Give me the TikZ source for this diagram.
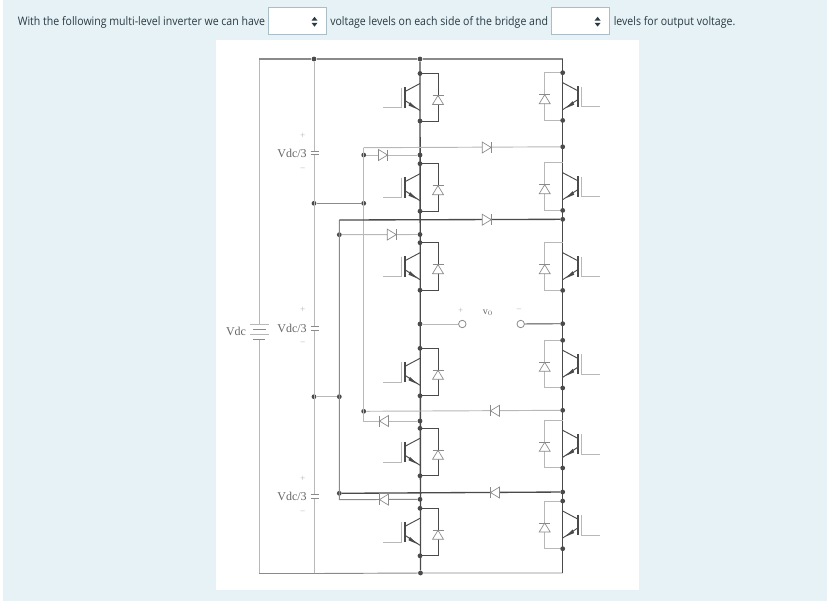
\documentclass[tikz,border=0pt]{standalone}
\usepackage{fontspec}
\setmainfont[FakeStretch=0.9]{Open Sans}
\newfontfamily\serifl{Liberation Serif}
\definecolor{pagebg}{HTML}{E6F2F5}
\definecolor{boxedge}{HTML}{A9BEC6}
\definecolor{txt}{HTML}{2A3B44}
\definecolor{dk}{HTML}{4A4A4A}
\definecolor{md}{HTML}{8A8A8A}
\definecolor{lt}{HTML}{B8B8B8}
\definecolor{lab}{HTML}{666666}
\tikzset{
  x=0.75pt,y=-0.75pt,
  dotn/.style={circle,fill=dk,inner sep=0pt,minimum size=3.6pt},
  term/.style={circle,draw=md,fill=white,line width=0.6pt,inner sep=0pt,minimum size=5.6pt},
  heavy/.style={draw=dk,line width=1pt},
  mid/.style={draw=md,line width=0.7pt},
  light/.style={draw=lt,line width=0.7pt},
  diodeline/.style={draw=md,line width=0.5pt,fill=white,line join=miter},
  head/.style={anchor=base west,text=txt,font=\fontsize{8.8pt}{11pt}\selectfont,inner sep=0pt},
  selbox/.style={draw=boxedge,fill=white,line width=0.6pt,rectangle,inner sep=0pt,minimum width=43.5pt,minimum height=20pt},
  clab/.style={text=lab,font=\serifl\fontsize{9pt}{10pt}\selectfont,inner sep=0pt},
  sign/.style={text=lt,font=\serifl\fontsize{7pt}{8pt}\selectfont,inner sep=0pt},
}
% args: direction, column x, top y, colour of the diode loop
\newcommand{\igbtcell}[4]{%
  \begin{scope}[shift={(#2,#3)},x={#1*0.75pt}]
    \draw[draw=dk,line width=0.7pt] (0,10) -- (-15,18);
    \draw[draw=dk,line width=1.3pt] (-15,13.5) -- (-15,34);
    \draw[draw=lt,line width=0.7pt] (-18.5,14) -- (-18.5,34) -- (-37,34);
    \draw[draw=dk,line width=0.7pt] (-15,27) -- (0,37);
    \fill[dk] (-3,35.5) -- (-10,28.5) -- (-11.5,32) -- cycle;
    \draw[draw=#4,line width=0.7pt] (0,0) -- (18,0) -- (18,47.5) -- (0,47.5);
    \draw[diodeline] (18,22) -- (12.5,31) -- (23.5,31) -- cycle;
    \draw[diodeline] (12.5,22) -- (23.5,22);
  \end{scope}}
\newcommand{\hdiode}[3]{% x, y, dir (1 = points right)
  \begin{scope}[shift={(#1,#2)},x={#3*0.75pt}]
    \draw[diodeline] (4.5,0) -- (-4.5,-5.5) -- (-4.5,5.5) -- cycle;
    \draw[diodeline] (4.5,-5.5) -- (4.5,5.5);
  \end{scope}}
\begin{document}
\begin{tikzpicture}
\useasboundingbox (0,0) rectangle (827,601);
\fill[white] (0,0) rectangle (827,601);
\fill[pagebg] (2.5,0) rectangle (827,601);
\fill[white] (216,40) rectangle (639,590);

% header
\node[head] at (17.5,25.5) {With the following multi-level inverter we can have};
\node[selbox] (sela) at (297.5,21) {};
\node[head] at (330,25.5) {voltage levels on each side of the bridge and};
\node[selbox] (selb) at (580.8,21) {};
\node[head] at (613.5,25.5) {levels for output voltage.};
\foreach \a in {314.5,597.6}{
  \fill[txt] (\a-3,20.6) -- (\a+3,20.6) -- (\a,16.8) -- cycle;
  \fill[txt] (\a-3,22.8) -- (\a+3,22.8) -- (\a,26.6) -- cycle;}

% named junctions
\node[dotn] (topcap) at (314,59) {};
\node[dotn] (topl) at (420,59) {};
\coordinate (tlc) at (259,59);
\coordinate (trc) at (562.7,59);
\coordinate (blc) at (259,573.5);
\coordinate (brc) at (562.7,573);
\coordinate (bcap) at (314,573.5);
\node[dotn] (botl) at (420.5,573) {};

\node[dotn] (capa) at (314,203.3) {};
\node[dotn] (capb) at (314,396.7) {};
\node[dotn] (inna) at (363.7,155) {};
\node[dotn] (innb) at (363.7,203.3) {};
\node[dotn] (innc) at (363.7,411.3) {};
\node[dotn] (outa) at (339.3,234.7) {};
\node[dotn] (outb) at (339.3,396.7) {};
\node[dotn] (outc) at (339.3,493.3) {};
\coordinate (outtop) at (339.3,220);
\coordinate (inntop) at (363.7,147.7);
\coordinate (innbot) at (363.7,421);
\coordinate (outbot) at (339.3,499.7);

\node[dotn] (la) at (420,155) {};
\node[dotn] (lb) at (420,234.5) {};
\node[dotn] (lc) at (420,324) {};
\node[dotn] (ld) at (420,421) {};
\node[dotn] (le) at (420,499.3) {};

\node[dotn] (ra) at (562.7,146.8) {};
\node[dotn] (rb) at (562.7,219.3) {};
\node[dotn] (rc) at (562.7,323.7) {};
\node[dotn] (rd) at (562.7,410.3) {};
\node[dotn] (re) at (562.7,492) {};
\node[term] (vp) at (462.3,324) {};
\node[term] (vm) at (520.7,324) {};

% rails
\draw[light] (blc) -- (tlc);
\draw[light] (topcap) -- (bcap);
\draw[mid,line width=0.9pt] (tlc) -- (topcap) -- (topl) -- (trc);
\draw[light,draw=md] (blc) -- (bcap) -- (botl) -- (brc);
\draw[heavy] (topl) -- (botl);
\draw[heavy] (trc) -- (brc);

% clamp wiring
\draw[mid] (capa) -- (innb);
\draw[light] (capb) -- (outb);
\draw[light] (inntop) -- (innbot) -- (ld);
\draw[light] (inna) -- (la);
\draw[light] (inntop) -- (ra);
\draw[mid] (outtop) -- (outbot) -- (le);
\draw[light] (outa) -- (lb);
\draw[light] (innc) -- (rd);
\draw[heavy] (outtop) -- (rb);
\draw[heavy,draw=dk] (outc) -- (re);
\draw[light] (lc) -- (vp);
\draw[heavy,line width=0.7pt] (vm) -- (rc);

% IGBTs left leg
\foreach \t in {73.5,163.7,242.7,348.3,428.3,508.3}{
  \igbtcell{1}{420}{\t}{dk}
  \node[dotn] at (420,\t) {};
  \node[dotn] at (420,\t+47.5) {};
}
% IGBTs right leg
\foreach \t in {72.7,162.7,242.7,340.3,420.3,501}{
  \igbtcell{-1}{562.7}{\t}{lt}
  \node[dotn] at (562.7,\t+47.7) {};
}
\node[dotn] at (562.7,72.7) {};
\node[dotn] at (562.7,340.3) {};
\node[dotn] at (562.7,501) {};

% series diodes
\hdiode{383}{155}{1}
\hdiode{486.7}{147.5}{1}
\hdiode{486.7}{219.7}{1}
\hdiode{391.7}{234.6}{1}
\hdiode{384}{421}{-1}
\hdiode{495}{410.8}{-1}
\hdiode{384}{499.6}{-1}
\hdiode{495}{492.5}{-1}

% capacitors: plate pairs
\foreach \u/\v in {151/154.3,326.7/330.7,494/498.3}{
  \fill[white] (310.5,\u) rectangle (318.5,\v);
  \draw[mid] (310.7,\u) -- (318.7,\u);
  \draw[mid] (310.7,\v) -- (318.7,\v);
}
% battery
\fill[white] (250,324.3) rectangle (269.3,339);
\draw[lt,line width=0.6pt] (250,324.3) -- (269.3,324.3);
\draw[md,line width=0.6pt] (253,329) -- (265.5,329);
\draw[lt,line width=0.6pt] (250,334) -- (269.3,334);
\draw[md,line width=0.7pt] (253,339) -- (265,339);

% labels
\node[clab] (vdc) at (236,331) {Vdc};
\node[clab] (vca) at (292,153) {Vdc/3};
\node[clab] (vcb) at (292,328) {Vdc/3};
\node[clab] (vcc) at (292,496) {Vdc/3};
\node[sign] at (302.7,136) {+};
\node[sign] at (302.7,170) {−};
\node[sign] at (302.7,310.3) {+};
\node[sign] at (302.7,344) {−};
\node[sign] at (460.7,310.7) {+};
\node[sign] at (519,310.7) {−};
\node[sign] at (302.7,478.7) {+};
\node[sign] at (302.7,512.7) {−};
\node[clab,font=\serifl\fontsize{7.5pt}{8pt}\selectfont] at (488,312.7) {v$_{0}$};
\end{tikzpicture}
\end{document}
